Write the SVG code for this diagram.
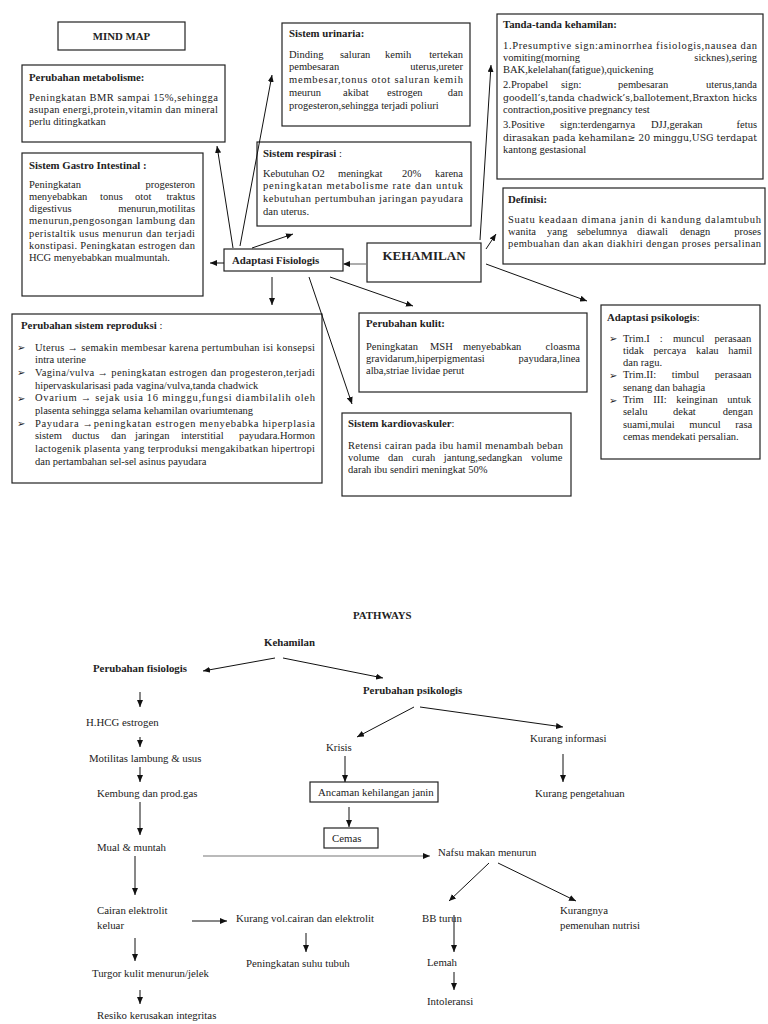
<svg xmlns="http://www.w3.org/2000/svg" width="768" height="1024" viewBox="0 0 768 1024">
<defs>
<style>
text{font-family:"Liberation Serif","Times New Roman",serif;font-size:10.5px;fill:#222}
.h{font-weight:bold;font-size:10.8px}
.p{font-size:10.8px}
.c{font-family:"DejaVu Serif",serif;font-size:9px}
.k{font-family:"DejaVu Sans",sans-serif;font-size:10px}
.e{text-anchor:end}
.box{fill:#fff;stroke:#222;stroke-width:1.2}
.ln{stroke:#111;stroke-width:1;fill:none;marker-end:url(#ah)}
.gr{stroke:#777;stroke-width:1.2;fill:none;marker-end:url(#ah)}
</style>
<marker id="ah" markerUnits="userSpaceOnUse" markerWidth="7" markerHeight="6" refX="7" refY="3" orient="auto">
<path d="M0,0 L7,3 L0,6 z" fill="#111"/>
</marker>
</defs>
<rect width="768" height="1024" fill="#fff"/>

<g id="mindmap-title">
<rect class="box" x="58" y="22" width="127" height="28"/>
<text class="h" x="121.5" y="40" text-anchor="middle">MIND MAP</text>
</g>

<g id="metabolisme">
<rect class="box" x="22" y="65" width="203" height="77"/>
<text class="h" x="29" y="80.7">Perubahan  metabolisme:</text>
<text x="29" y="100.5" textLength="189" lengthAdjust="spacing">Peningkatan BMR sampai 15%,sehingga</text>
<text x="29" y="112.5" textLength="189" lengthAdjust="spacing">asupan energi,protein,vitamin dan mineral</text>
<text x="29" y="124.5">perlu ditingkatkan</text>
</g>

<g id="gastro">
<rect class="box" x="22" y="153" width="181" height="143"/>
<text class="h" x="29" y="168.7">Sistem Gastro Intestinal :</text>
<text x="29" y="187.5">Peningkatan</text><text class="e" x="195" y="187.5">progesteron</text>
<text x="29" y="199.8">menyebabkan</text><text x="100" y="199.8">tonus</text><text x="135" y="199.8">otot</text><text class="e" x="195" y="199.8">traktus</text>
<text x="29" y="212.1">digestivus</text><text class="e" x="195" y="212.1">menurun,motilitas</text>
<text x="29" y="224.4" textLength="166" lengthAdjust="spacing">menurun,pengosongan lambung dan</text>
<text x="29" y="236.7" textLength="166" lengthAdjust="spacing">peristaltik usus menurun dan terjadi</text>
<text x="29" y="249" textLength="166" lengthAdjust="spacing">konstipasi. Peningkatan estrogen dan</text>
<text x="29" y="261.3">HCG menyebabkan mualmuntah.</text>
</g>

<g id="urinaria">
<rect class="box" x="282" y="23" width="188" height="103"/>
<text class="h" x="289" y="36.7">Sistem urinaria:</text>
<text x="289" y="57.5">Dinding</text><text x="340" y="57.5">saluran</text><text x="385" y="57.5">kemih</text><text class="e" x="463" y="57.5">tertekan</text>
<text x="289" y="70.3">pembesaran</text><text class="e" x="463" y="70.3">uterus,ureter</text>
<text x="289" y="83.1" textLength="174" lengthAdjust="spacing">membesar,tonus otot saluran kemih</text>
<text x="289" y="95.9">meurun</text><text x="343" y="95.9">akibat</text><text x="387" y="95.9">estrogen</text><text class="e" x="463" y="95.9">dan</text>
<text x="289" y="108.7">progesteron,sehingga terjadi poliuri</text>
</g>

<g id="respirasi">
<rect class="box" x="257" y="142" width="214" height="84"/>
<text x="263" y="156.7"><tspan class="h">Sistem respirasi</tspan> :</text>
<text x="263" y="176.5">Kebutuhan</text><text x="312" y="176.5">O2</text><text x="338" y="176.5">meningkat</text><text x="402" y="176.5">20%</text><text class="e" x="463" y="176.5">karena</text>
<text x="263" y="189.3" textLength="200" lengthAdjust="spacing">peningkatan metabolisme rate dan untuk</text>
<text x="263" y="202.1" textLength="200" lengthAdjust="spacing">kebutuhan pertumbuhan  jaringan  payudara</text>
<text x="263" y="214.9">dan uterus.</text>
</g>

<g id="tanda">
<rect class="box" x="497" y="14" width="266" height="165"/>
<text class="h" x="503" y="27.7">Tanda-tanda kehamilan:</text>
<text x="503" y="48.5" textLength="254" lengthAdjust="spacing">1.Presumptive sign:aminorrhea fisiologis,nausea dan</text>
<text x="503" y="60.5">vomiting(morning</text><text class="e" x="757" y="60.5">sicknes),sering</text>
<text x="503" y="72.5">BAK,kelelahan(fatigue),quickening</text>
<text x="503" y="87.5">2.Propabel</text><text x="561" y="87.5">sign:</text><text x="618" y="87.5">pembesaran</text><text class="e" x="757" y="87.5">uterus,tanda</text>
<text class="c" x="503" y="100.5" textLength="254" lengthAdjust="spacingAndGlyphs">goodell’s,tanda chadwick’s,ballotement,Braxton hicks</text>
<text x="503" y="112.5">contraction,positive pregnancy test</text>
<text x="503" y="127.5">3.Positive</text><text x="560" y="127.5">sign:terdengarnya</text><text x="651" y="127.5">DJJ,gerakan</text><text class="e" x="757" y="127.5">fetus</text>
<text class="c" x="503" y="140.5" textLength="254" lengthAdjust="spacingAndGlyphs">dirasakan pada kehamilan≥ 20 minggu,USG terdapat</text>
<text x="503" y="152.5">kantong gestasional</text>
</g>

<g id="definisi">
<rect class="box" x="503" y="188" width="262" height="76"/>
<text class="h" x="508" y="202.7">Definisi:</text>
<text x="508" y="222.5" textLength="253" lengthAdjust="spacing">Suatu keadaan dimana janin di kandung dalamtubuh</text>
<text x="508" y="234.5">wanita</text><text x="547" y="234.5">yang</text><text x="577" y="234.5">sebelumnya</text><text x="637" y="234.5">diawali</text><text x="680" y="234.5">denagn</text><text class="e" x="761" y="234.5">proses</text>
<text x="508" y="246.5" textLength="253" lengthAdjust="spacing">pembuahan dan akan diakhiri dengan proses persalinan</text>
</g>

<g id="adaptasi-fisiologis">
<rect class="box" x="224" y="249" width="119" height="22"/>
<text class="h" x="232" y="264">Adaptasi Fisiologis</text>
</g>

<g id="kehamilan">
<rect class="box" x="367" y="243" width="114" height="39"/>
<text x="424" y="260" text-anchor="middle" style="font-weight:bold;font-size:13px">KEHAMILAN</text>
</g>

<g id="reproduksi">
<rect class="box" x="12" y="314" width="310" height="169"/>
<text x="21" y="328.7"><tspan class="h">Perubahan  sistem  reproduksi</tspan> :</text>
<text class="k" x="17" y="351">➢</text>
<text x="35" y="350.5" textLength="280" lengthAdjust="spacing">Uterus → semakin membesar karena pertumbuhan isi konsepsi</text>
<text x="35" y="363.2">intra uterine</text>
<text class="k" x="17" y="376.4">➢</text>
<text x="35" y="375.9" textLength="280" lengthAdjust="spacing">Vagina/vulva → peningkatan estrogen dan progesteron,terjadi</text>
<text x="35" y="388.6">hipervaskularisasi pada vagina/vulva,tanda chadwick</text>
<text class="k" x="17" y="401.8">➢</text>
<text x="35" y="401.3" textLength="280" lengthAdjust="spacing">Ovarium → sejak usia 16 minggu,fungsi diambilalih oleh</text>
<text x="35" y="414">plasenta sehingga selama kehamilan ovariumtenang</text>
<text class="k" x="17" y="427.2">➢</text>
<text x="35" y="426.7" textLength="280" lengthAdjust="spacing">Payudara →peningkatan estrogen menyebabka hiperplasia</text>
<text x="35" y="439.4">sistem</text><text x="72" y="439.4">ductus</text><text x="111" y="439.4">dan</text><text x="135" y="439.4">jaringan</text><text x="181" y="439.4">interstitial</text><text class="e" x="315" y="439.4">payudara.Hormon</text>
<text x="35" y="452.1" textLength="280" lengthAdjust="spacing">lactogenik plasenta yang terproduksi mengakibatkan hipertropi</text>
<text x="35" y="464.8">dan pertambahan sel-sel asinus payudara</text>
</g>

<g id="kulit">
<rect class="box" x="359" y="313" width="228" height="79"/>
<text class="h" x="366" y="326.7">Perubahan  kulit:</text>
<text x="366" y="349.5">Peningkatan</text><text x="430" y="349.5">MSH</text><text x="463" y="349.5">menyebabkan</text><text class="e" x="580" y="349.5">cloasma</text>
<text x="366" y="361.8">gravidarum,hiperpigmentasi</text><text class="e" x="580" y="361.8">payudara,linea</text>
<text x="366" y="374.1">alba,striae lividae perut</text>
</g>

<g id="kardiovaskuler">
<rect class="box" x="342" y="413" width="229" height="83"/>
<text x="348" y="426.7"><tspan class="h">Sistem kardiovaskuler</tspan>:</text>
<text x="348" y="448.5" textLength="215" lengthAdjust="spacing">Retensi cairan pada ibu hamil menambah beban</text>
<text x="348" y="460.8" style="word-spacing:6px">volume dan curah jantung,sedangkan volume</text>
<text x="348" y="473.1">darah ibu sendiri meningkat 50%</text>
</g>

<g id="psikologis">
<rect class="box" x="601" y="305" width="159" height="154"/>
<text x="607" y="320.7"><tspan class="h">Adaptasi psikologis</tspan>:</text>
<text class="k" x="609" y="342">➢</text>
<text x="623" y="341.5" style="word-spacing:7.5px">Trim.I : muncul perasaan</text>
<text x="623" y="353.8" style="word-spacing:7px">tidak percaya kalau hamil</text>
<text x="623" y="366.1">dan ragu.</text>
<text class="k" x="609" y="378.9">➢</text>
<text x="623" y="378.4" style="word-spacing:13px">Trim.II: timbul perasaan</text>
<text x="623" y="390.7">senang dan bahagia</text>
<text class="k" x="609" y="403.5">➢</text>
<text x="623" y="403" style="word-spacing:7px">Trim III: keinginan untuk</text>
<text x="623" y="415.3">selalu</text><text x="673" y="415.3">dekat</text><text class="e" x="753" y="415.3">dengan</text>
<text x="623" y="427.6" style="word-spacing:12px">suami,mulai muncul rasa</text>
<text x="623" y="439.9">cemas mendekati persalian.</text>
</g>

<g id="pathways-nodes">
<text class="h" x="353" y="619">PATHWAYS</text>
<g id="p-kehamilan"><text class="h" x="264" y="646">Kehamilan</text></g>
<g id="p-fisiologis"><text class="h" x="93" y="672">Perubahan fisiologis</text></g>
<g id="p-psikologis"><text class="h" x="363" y="694">Perubahan psikologis</text></g>
<g id="p-hcg"><text class="p" x="86" y="726">H.HCG estrogen</text></g>
<g id="p-motilitas"><text class="p" x="89" y="762">Motilitas lambung &amp; usus</text></g>
<g id="p-kembung"><text class="p" x="97" y="797">Kembung dan prod.gas</text></g>
<g id="p-krisis"><text class="p" x="326" y="751">Krisis</text></g>
<g id="p-kurang-info"><text class="p" x="530" y="742">Kurang informasi</text></g>
<g id="p-kurang-peng"><text class="p" x="535" y="797">Kurang  pengetahuan</text></g>
<g id="p-ancaman"><rect class="box" x="310" y="782" width="128" height="20"/><text class="p" x="318" y="796">Ancaman kehilangan janin</text></g>
<g id="p-cemas"><rect class="box" x="324" y="828" width="54" height="20"/><text class="p" x="332" y="842">Cemas</text></g>
<g id="p-mual"><text class="p" x="97" y="851">Mual &amp; muntah</text></g>
<g id="p-nafsu"><text class="p" x="438" y="856">Nafsu makan menurun</text></g>
<g id="p-cairan"><text class="p" x="97" y="914">Cairan elektrolit</text><text class="p" x="97" y="929">keluar</text></g>
<g id="p-kurang-vol"><text class="p" x="236" y="922">Kurang vol.cairan dan elektrolit</text></g>
<g id="p-suhu"><text class="p" x="246" y="967">Peningkatan suhu tubuh</text></g>
<g id="p-turgor"><text class="p" x="92" y="977">Turgor kulit menurun/jelek</text></g>
<g id="p-resiko"><text class="p" x="97" y="1019">Resiko kerusakan integritas</text></g>
<g id="p-bb"><text class="p" x="422" y="922">BB turun</text></g>
<g id="p-kurangnya"><text class="p" x="560" y="914">Kurangnya</text><text class="p" x="560" y="929">pemenuhan  nutrisi</text></g>
<g id="p-lemah"><text class="p" x="427" y="966">Lemah</text></g>
<g id="p-intoleransi"><text class="p" x="427" y="1005">Intoleransi</text></g>
</g>

<g id="connectors">
<line class="gr" x1="367" y1="264" x2="343" y2="264"/>
<line class="ln" x1="224" y1="263" x2="210" y2="263"/>
<line class="ln" x1="233" y1="248" x2="217" y2="146"/>
<line class="ln" x1="240" y1="246" x2="272" y2="75"/>
<line class="ln" x1="252" y1="248" x2="293" y2="234"/>
<line class="ln" x1="272" y1="277" x2="272" y2="305"/>
<line class="ln" x1="330" y1="277" x2="413" y2="306"/>
<line class="ln" x1="309" y1="277" x2="352" y2="404"/>
<line class="ln" x1="480" y1="240" x2="491" y2="65"/>
<line class="ln" x1="486" y1="249" x2="496" y2="234"/>
<line class="ln" x1="486" y1="264" x2="587" y2="301"/>

<line class="ln" x1="275" y1="658" x2="203" y2="671"/>
<line class="ln" x1="283" y1="658" x2="383" y2="678"/>
<line class="ln" x1="140" y1="692" x2="140" y2="707"/>
<line class="ln" x1="140" y1="737" x2="140" y2="747"/>
<line class="ln" x1="140" y1="767" x2="140" y2="782"/>
<line class="ln" x1="414" y1="707" x2="357" y2="737"/>
<line class="ln" x1="420" y1="707" x2="563" y2="727"/>
<line class="ln" x1="345" y1="756" x2="345" y2="782"/>
<line class="ln" x1="563" y1="754" x2="563" y2="782"/>
<line class="ln" x1="349" y1="807" x2="349" y2="827"/>
<line class="ln" x1="140" y1="802" x2="140" y2="835"/>
<line class="gr" x1="203" y1="856" x2="430" y2="856"/>
<line class="ln" x1="135" y1="856" x2="135" y2="895"/>
<line class="ln" x1="489" y1="863" x2="449" y2="901"/>
<line class="ln" x1="498" y1="863" x2="576" y2="901"/>
<line class="ln" x1="192" y1="921" x2="227" y2="921"/>
<line class="ln" x1="306" y1="933" x2="306" y2="952"/>
<line class="ln" x1="135" y1="938" x2="135" y2="961"/>
<line class="ln" x1="140" y1="990" x2="140" y2="1004"/>
<line class="ln" x1="454" y1="915" x2="454" y2="952"/>
<line class="ln" x1="454" y1="972" x2="454" y2="990"/>
</g>
</svg>
